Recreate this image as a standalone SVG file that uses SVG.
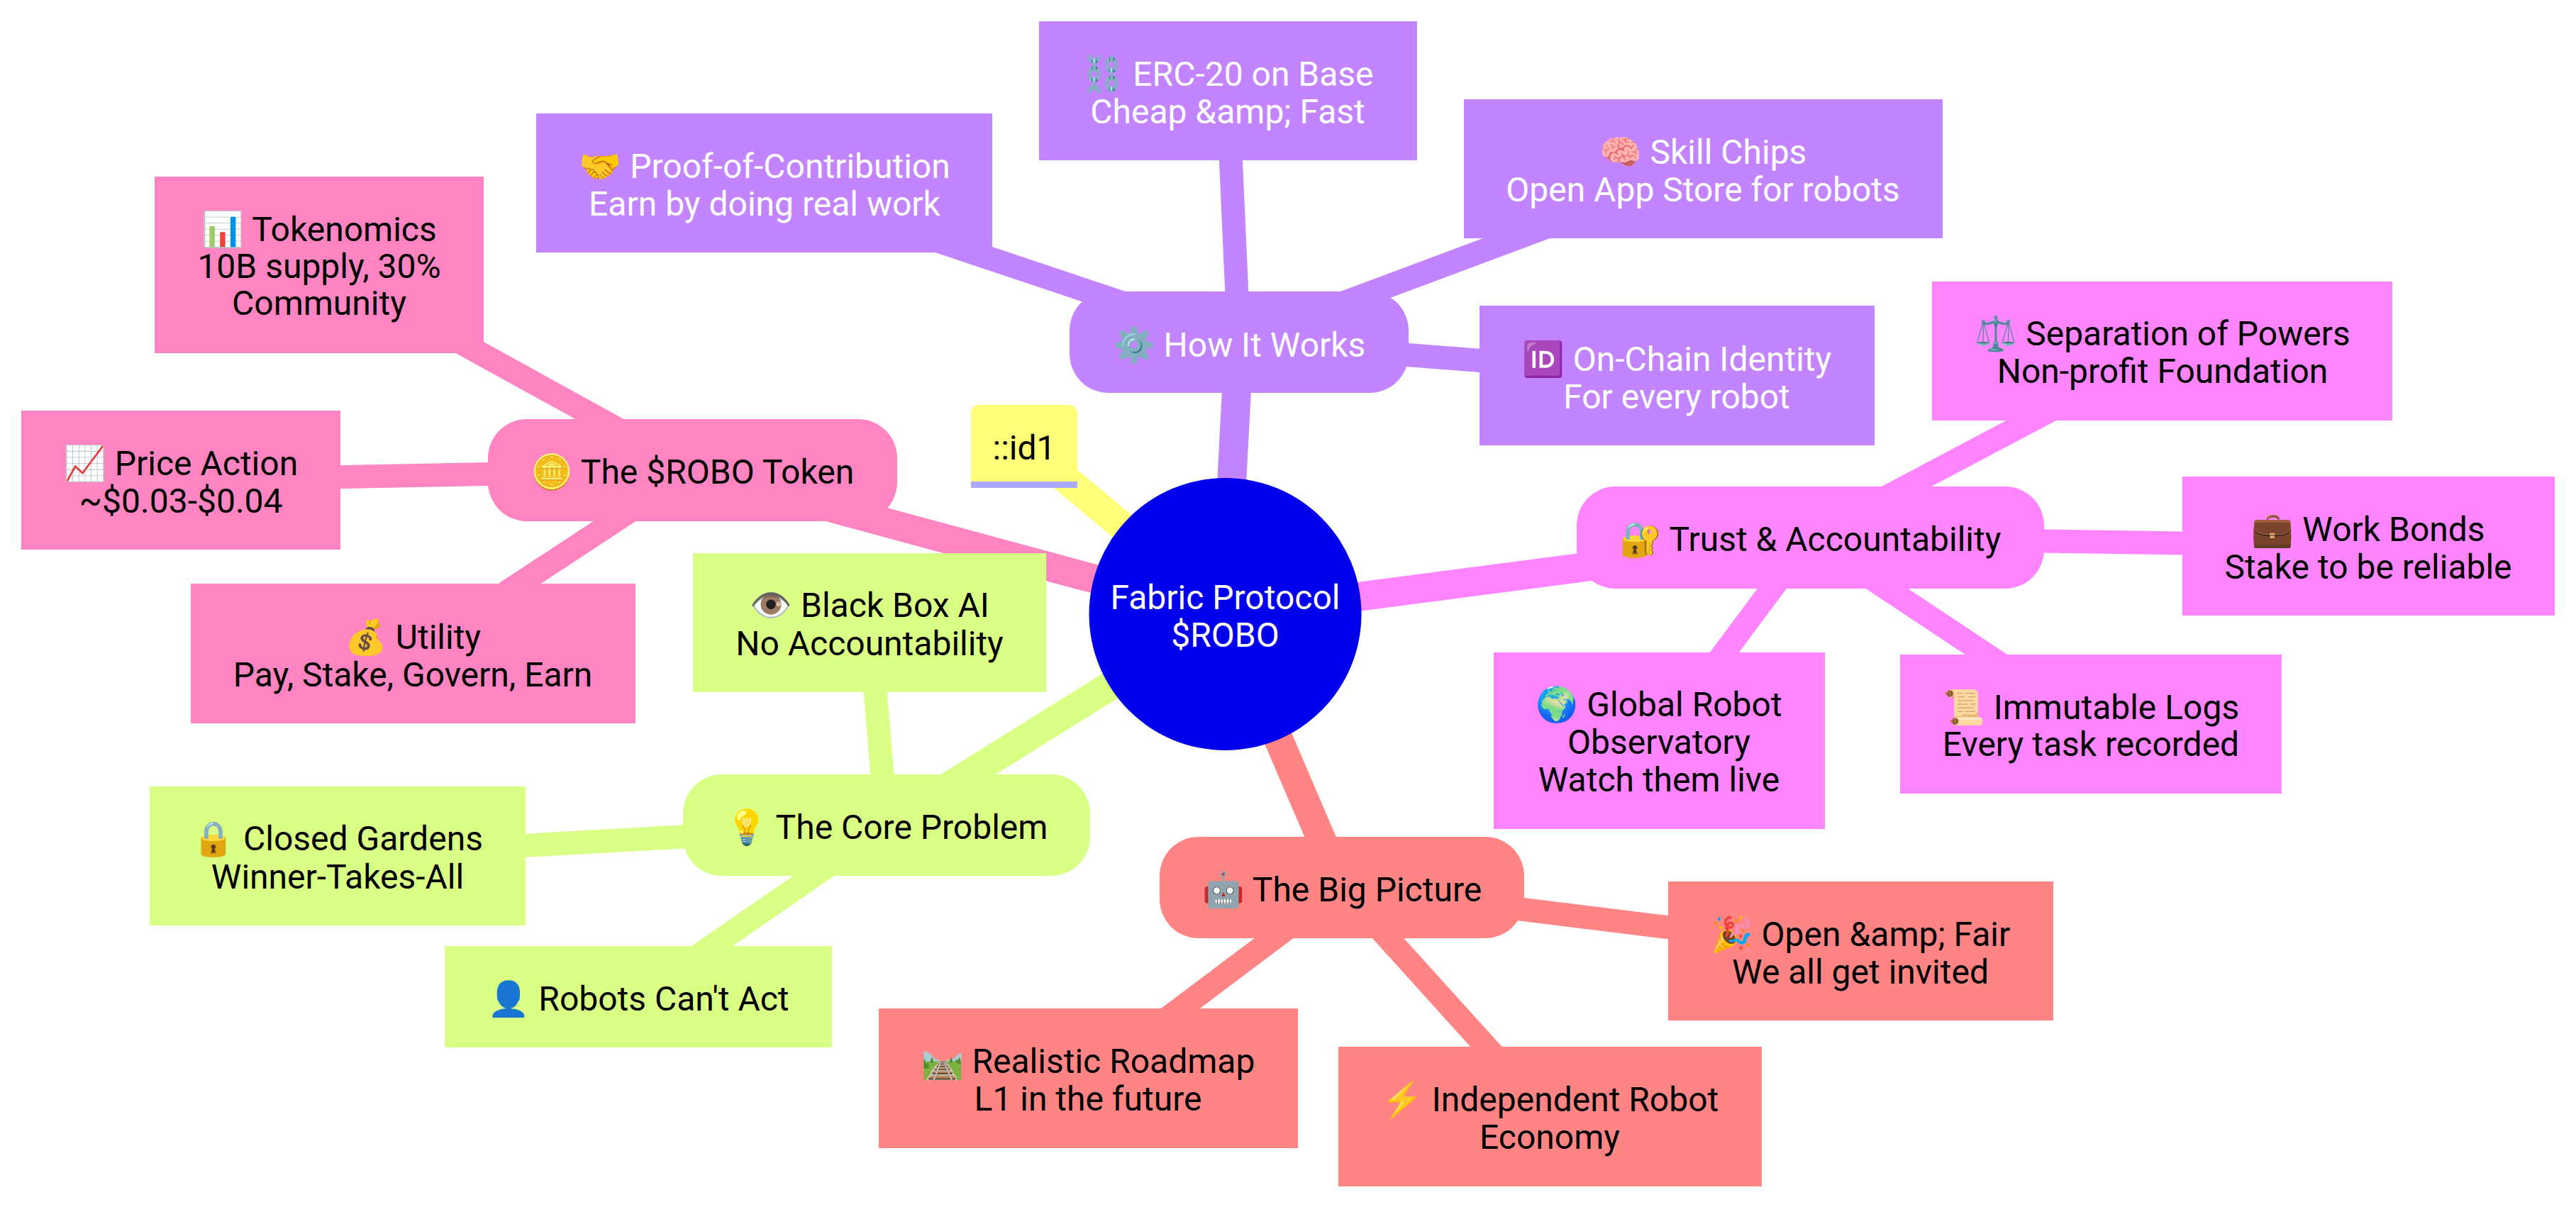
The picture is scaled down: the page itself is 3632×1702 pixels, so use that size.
<svg xmlns="http://www.w3.org/2000/svg" width="3632" height="1702" viewBox="0 0 3632 1702">
<style>
text{font-family:Roboto,"Noto Sans",sans-serif;font-size:48px;text-anchor:middle;fill:#000}
.w text,text.w{fill:#fff}
line{stroke-linecap:butt;fill:none}
.e0{stroke-width:41}
.e1{stroke-width:33}
.y{fill:#ffff78}.yl{stroke:#ffff78}
.g{fill:#d9ff85}.gl{stroke:#d9ff85}
.p{fill:#c285ff}.pl{stroke:#c285ff}
.m{fill:#ff85ff}.ml{stroke:#ff85ff}
.k{fill:#ff85c2}.kl{stroke:#ff85c2}
.r{fill:#ff8585}.rl{stroke:#ff8585}
</style>
<rect width="3632" height="1702" fill="#fff"/>
<g id="connectors">
<line class="e0 yl" x1="1727" y1="862.5" x2="1444" y2="626.5"/>
<line class="e0 kl" x1="1727" y1="866" x2="976" y2="663"/>
<line class="e0 pl" x1="1727" y1="866" x2="1747" y2="482"/>
<line class="e0 ml" x1="1727" y1="866" x2="2552" y2="758"/>
<line class="e0 rl" x1="1727" y1="866" x2="1892" y2="1251"/>
<line class="e0 gl" x1="1727" y1="866" x2="1250" y2="1164"/>
<line class="e1 kl" x1="976" y1="663" x2="450" y2="373"/>
<line class="e1 kl" x1="976" y1="663" x2="255" y2="677"/>
<line class="e1 kl" x1="976" y1="663" x2="582" y2="922"/>
<line class="e1 pl" x1="1747" y1="482" x2="1731" y2="128"/>
<line class="e1 pl" x1="1747" y1="482" x2="1078" y2="258"/>
<line class="e1 pl" x1="1747" y1="482" x2="2401" y2="238"/>
<line class="e1 pl" x1="1747" y1="482" x2="2364" y2="530"/>
<line class="e1 ml" x1="2552" y1="758" x2="3049" y2="495"/>
<line class="e1 ml" x1="2552" y1="758" x2="3339" y2="770"/>
<line class="e1 ml" x1="2552" y1="758" x2="2339" y2="1044"/>
<line class="e1 ml" x1="2552" y1="758" x2="2948" y2="1021"/>
<line class="e1 rl" x1="1892" y1="1251" x2="2623" y2="1341"/>
<line class="e1 rl" x1="1892" y1="1251" x2="1534" y2="1520"/>
<line class="e1 rl" x1="1892" y1="1251" x2="2185" y2="1575"/>
<line class="e1 gl" x1="1250" y1="1164" x2="1226" y2="878"/>
<line class="e1 gl" x1="1250" y1="1164" x2="476" y2="1207"/>
<line class="e1 gl" x1="1250" y1="1164" x2="900" y2="1406"/>
</g>
<g id="id1"><path class="y" d="M1369 688V582a11 11 0 0 1 11-11H1508a11 11 0 0 1 11 11V688Z"/><rect x="1369" y="679" width="150" height="9" fill="#aaaaff"/><text x="1444" y="648">::id1</text></g>
<g id="root"><circle cx="1727.5" cy="866" r="192" fill="#0000ec"/><text class="w" x="1727.5" y="859">Fabric Protocol</text><text class="w" x="1727.5" y="912">$ROBO</text></g>
<g id="token"><rect class="k" x="688" y="591" width="577" height="144" rx="55"/><text x="976" y="682">🪙 The $ROBO Token</text></g>
<g id="tokenomics"><rect class="k" x="218" y="249" width="464" height="249"/><text x="450" y="340">📊 Tokenomics</text><text x="450" y="392">10B supply, 30%</text><text x="450" y="444">Community</text></g>
<g id="price"><rect class="k" x="30" y="579" width="450" height="196"/><text x="255" y="670">📈 Price Action</text><text x="255" y="723">~$0.03-$0.04</text></g>
<g id="utility"><rect class="k" x="269" y="823" width="627" height="197"/><text x="582" y="915">💰 Utility</text><text x="582" y="968">Pay, Stake, Govern, Earn</text></g>
<g id="how" class="w"><rect class="p" x="1508" y="411" width="478" height="143" rx="55"/><text x="1747" y="503">⚙️ How It Works</text></g>
<g id="erc" class="w"><rect class="p" x="1465" y="30" width="533" height="196"/><text x="1731" y="121">⛓️ ERC-20 on Base</text><text x="1731" y="174">Cheap &amp;amp; Fast</text></g>
<g id="proof" class="w"><rect class="p" x="756" y="160" width="643" height="196"/><text x="1078" y="251">🤝 Proof-of-Contribution</text><text x="1078" y="304">Earn by doing real work</text></g>
<g id="skill" class="w"><rect class="p" x="2064" y="140" width="675" height="196"/><text x="2401" y="231">🧠 Skill Chips</text><text x="2401" y="284">Open App Store for robots</text></g>
<g id="identity" class="w"><rect class="p" x="2086" y="431" width="557" height="197"/><text x="2364" y="523">🆔 On-Chain Identity</text><text x="2364" y="576">For every robot</text></g>
<g id="trust"><rect class="m" x="2223" y="686" width="659" height="144" rx="55"/><text x="2552" y="777">🔐 Trust &amp; Accountability</text></g>
<g id="separation"><rect class="m" x="2724" y="397" width="649" height="196"/><text x="3049" y="487">⚖️ Separation of Powers</text><text x="3049" y="540">Non-profit Foundation</text></g>
<g id="bonds"><rect class="m" x="3077" y="672" width="525" height="196"/><text x="3339" y="763">💼 Work Bonds</text><text x="3339" y="816">Stake to be reliable</text></g>
<g id="global"><rect class="m" x="2106" y="920" width="467" height="249"/><text x="2339" y="1010">🌍 Global Robot</text><text x="2339" y="1063">Observatory</text><text x="2339" y="1116">Watch them live</text></g>
<g id="logs"><rect class="m" x="2679" y="923" width="538" height="196"/><text x="2948" y="1014">📜 Immutable Logs</text><text x="2948" y="1066">Every task recorded</text></g>
<g id="big"><rect class="r" x="1635" y="1180" width="514" height="143" rx="55"/><text x="1892" y="1271">🤖 The Big Picture</text></g>
<g id="open"><rect class="r" x="2352" y="1243" width="543" height="196"/><text x="2623" y="1334">🎉 Open &amp;amp; Fair</text><text x="2623" y="1387">We all get invited</text></g>
<g id="roadmap"><rect class="r" x="1239" y="1422" width="591" height="197"/><text x="1534" y="1513">🛤️ Realistic Roadmap</text><text x="1534" y="1566">L1 in the future</text></g>
<g id="economy"><rect class="r" x="1887" y="1476" width="597" height="197"/><text x="2185" y="1567">⚡ Independent Robot</text><text x="2185" y="1620">Economy</text></g>
<g id="core"><rect class="g" x="963" y="1092" width="574" height="143" rx="55"/><text x="1250" y="1183">💡 The Core Problem</text></g>
<g id="black"><rect class="g" x="977" y="780" width="498" height="196"/><text x="1226" y="870">👁️ Black Box AI</text><text x="1226" y="924">No Accountability</text></g>
<g id="closed"><rect class="g" x="211" y="1109" width="530" height="196"/><text x="476" y="1199">🔒 Closed Gardens</text><text x="476" y="1253">Winner-Takes-All</text></g>
<g id="robots"><rect class="g" x="627" y="1334" width="546" height="143"/><text x="900" y="1425">👤 Robots Can't Act</text></g>
</svg>
